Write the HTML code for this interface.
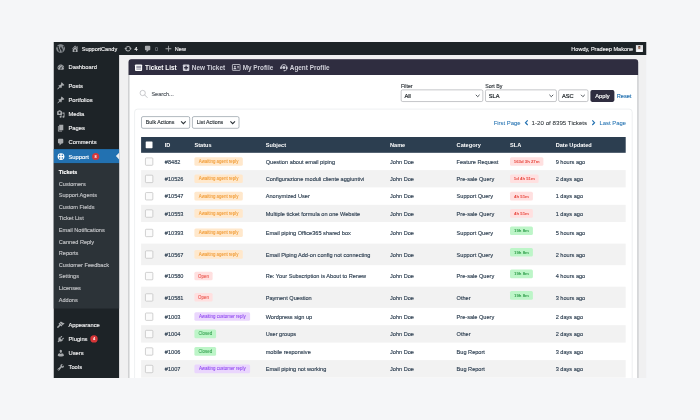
<!DOCTYPE html>
<html><head><meta charset="utf-8"><title>Ticket List</title>
<style>
html,body{margin:0;padding:0}
body{width:700px;height:420px;overflow:hidden;background:#f5f6f8;font-family:"Liberation Sans",sans-serif;position:relative}
.shot{position:absolute;left:0;top:0;width:700px;height:420px;clip-path:inset(42px 53.5px 42px 53.5px)}
.shot>svg{position:absolute;left:0;top:0}
.t{position:absolute;white-space:nowrap;line-height:10px;height:10px;-webkit-text-stroke:0.14px currentColor}
.c{transform:translateX(-50%)}
.mi{font-size:5.8px;color:#f0f0f1}
.si{font-size:5.58px;color:#c3c4c7}
.ab{font-size:5.55px;color:#f0f0f1}
.tab{font-size:6.4px;font-weight:bold;color:#cfcfd8;-webkit-text-stroke:0}
.lbl{font-size:5.25px;color:#2c3338}
.selt{font-size:5.7px;color:#1d2327;-webkit-text-stroke:0.2px currentColor}
.btnt{font-size:5.25px;color:#2c3338}
.pg{font-size:5.9px;color:#2271b1;-webkit-text-stroke:0.06px currentColor}
.tht{font-size:5.6px;font-weight:bold;color:#fff;-webkit-text-stroke:0}
.td{font-size:5.6px;color:#2c3e50}
.m{font-size:5.6px}
.bdt{font-size:4.43px;-webkit-text-stroke:0.05px currentColor}
.slt{font-size:4.3px;font-weight:bold;-webkit-text-stroke:0}
.bn{font-size:3.9px;color:#fff;font-weight:bold;-webkit-text-stroke:0}
</style></head><body>
<div class="shot">
<svg width="700" height="420" viewBox="0 0 700 420" fill="none">
<rect x="53.50" y="42.00" width="593.00" height="336.00" fill="#f0f0f1"/>
<rect x="128.90" y="59.60" width="509.00" height="340.00" rx="2.5" fill="#ffffff" stroke="#b4b5b9" stroke-width="0.9"/>
<path d="M128.6 75V62Q128.6 59.3 131.3 59.3H635.4Q638.1 59.3 638.1 62V75Z" fill="#2f2d40"/>
<g transform="translate(135.00 64.40)"><rect width="7.1" height="6.5" rx="0.9" fill="#fff"/><rect x="1.3" y="1.5" width="4.8" height="0.8" fill="#77758a"/><rect x="1.3" y="2.9" width="4.8" height="0.8" fill="#77758a"/><rect x="1.3" y="4.3" width="4.8" height="0.8" fill="#77758a"/></g>
<g transform="translate(182.90 64.50)"><rect width="6.4" height="6.4" rx="0.8" fill="#cfcfd8"/><rect x="2.55" y="1.2" width="1.3" height="4" fill="#2f2d40"/><rect x="1.2" y="2.55" width="4" height="1.3" fill="#2f2d40"/></g>
<g transform="translate(232.00 64.10)"><rect x="0.4" y="0.4" width="7.7" height="5.9" rx="0.5" fill="none" stroke="#cfcfd8" stroke-width="0.8"/><circle cx="2.9" cy="2.6" r="0.9" fill="#cfcfd8"/><path d="M1.4 5.1Q1.4 3.7 2.9 3.7Q4.4 3.7 4.4 5.1Z" fill="#cfcfd8"/><rect x="5.1" y="2" width="2" height="0.7" fill="#cfcfd8"/><rect x="5.1" y="3.4" width="2" height="0.7" fill="#cfcfd8"/></g>
<g transform="translate(280.00 63.50)"><path d="M1.3 4V3.6A2.6 2.6 0 0 1 6.5 3.6V4" fill="none" stroke="#cfcfd8" stroke-width="0.8"/><rect x="0.2" y="3" width="1.6" height="2.6" rx="0.6" fill="#cfcfd8"/><rect x="6" y="3" width="1.6" height="2.6" rx="0.6" fill="#cfcfd8"/><circle cx="3.9" cy="3.9" r="1.5" fill="#cfcfd8"/><path d="M6.9 5.4Q6.9 7.2 4.4 7.2" fill="none" stroke="#cfcfd8" stroke-width="0.7"/><circle cx="4.2" cy="7.2" r="0.6" fill="#cfcfd8"/></g>
<g transform="translate(139.30 89.60)"><circle cx="3.4" cy="3.4" r="2.65" fill="none" stroke="#b4b6ba" stroke-width="0.7"/><path d="M5.4 5.4L7.9 7.9" stroke="#b4b6ba" stroke-width="0.8" stroke-linecap="round"/></g>
<rect x="401.15" y="89.85" width="81.70" height="11.70" rx="1.5" fill="#fff" stroke="#8c8f94" stroke-width="0.5"/>
<path d="M475.80 94.8l1.9 1.9l1.9 -1.9" fill="none" stroke="#3c434a" stroke-width="0.9"/>
<rect x="485.45" y="89.85" width="71.00" height="11.70" rx="1.5" fill="#fff" stroke="#8c8f94" stroke-width="0.5"/>
<path d="M549.40 94.8l1.9 1.9l1.9 -1.9" fill="none" stroke="#3c434a" stroke-width="0.9"/>
<rect x="558.65" y="89.85" width="29.40" height="11.70" rx="1.5" fill="#fff" stroke="#8c8f94" stroke-width="0.5"/>
<path d="M581.00 94.8l1.9 1.9l1.9 -1.9" fill="none" stroke="#3c434a" stroke-width="0.9"/>
<rect x="590.40" y="90.10" width="24.00" height="11.80" rx="1.8" fill="#2f2d40"/>
<rect x="134.60" y="109.10" width="497.60" height="300.00" rx="3" fill="#fff" stroke="#e3e5e8" stroke-width="0.6"/>
<rect x="141.50" y="116.60" width="48.20" height="11.70" rx="1.5" fill="#fff" stroke="#7e8993" stroke-width="0.6"/>
<path d="M181.10 121.4l2.3 2.2l2.3 -2.2" fill="none" stroke="#2c3338" stroke-width="1.15"/>
<rect x="192.40" y="116.60" width="46.60" height="11.70" rx="1.5" fill="#fff" stroke="#7e8993" stroke-width="0.6"/>
<path d="M230.40 121.4l2.3 2.2l2.3 -2.2" fill="none" stroke="#2c3338" stroke-width="1.15"/>
<path d="M527.7 120.4l-2.2 2.3l2.2 2.3" fill="none" stroke="#2271b1" stroke-width="1.2"/>
<path d="M592.3 120.4l2.2 2.3l-2.2 2.3" fill="none" stroke="#2271b1" stroke-width="1.2"/>
<rect x="141.10" y="137.00" width="484.60" height="15.80" fill="#2c3e50"/>
<rect x="145.70" y="141.40" width="6.80" height="6.80" rx="0.6" fill="#fff"/>
<rect x="145.45" y="157.90" width="7.40" height="7.40" rx="0.8" fill="#fbfbfb" stroke="#b5b5b5" stroke-width="0.6"/>
<rect x="194.40" y="157.15" width="48.40" height="8.60" rx="1.5" fill="#ffe8cc"/>
<rect x="510.00" y="157.15" width="33.40" height="8.60" rx="1.5" fill="#ffe0e0"/>
<rect x="141.10" y="170.10" width="484.60" height="17.30" fill="#f2f2f2"/>
<rect x="145.45" y="175.20" width="7.40" height="7.40" rx="0.8" fill="#fbfbfb" stroke="#b5b5b5" stroke-width="0.6"/>
<rect x="194.40" y="174.45" width="48.40" height="8.60" rx="1.5" fill="#ffe8cc"/>
<rect x="510.00" y="174.45" width="28.60" height="8.60" rx="1.5" fill="#ffe0e0"/>
<rect x="145.45" y="192.55" width="7.40" height="7.40" rx="0.8" fill="#fbfbfb" stroke="#b5b5b5" stroke-width="0.6"/>
<rect x="194.40" y="191.80" width="48.40" height="8.60" rx="1.5" fill="#ffe8cc"/>
<rect x="510.00" y="191.80" width="22.90" height="8.60" rx="1.5" fill="#ffe0e0"/>
<rect x="141.10" y="204.80" width="484.60" height="17.20" fill="#f2f2f2"/>
<rect x="145.45" y="209.85" width="7.40" height="7.40" rx="0.8" fill="#fbfbfb" stroke="#b5b5b5" stroke-width="0.6"/>
<rect x="194.40" y="209.10" width="48.40" height="8.60" rx="1.5" fill="#ffe8cc"/>
<rect x="510.00" y="209.10" width="22.90" height="8.60" rx="1.5" fill="#ffe0e0"/>
<rect x="145.45" y="229.25" width="7.40" height="7.40" rx="0.8" fill="#fbfbfb" stroke="#b5b5b5" stroke-width="0.6"/>
<rect x="194.40" y="228.50" width="48.40" height="8.60" rx="1.5" fill="#ffe8cc"/>
<rect x="510.00" y="226.40" width="22.90" height="8.60" rx="1.5" fill="#bdf5c8"/>
<rect x="141.10" y="243.60" width="484.60" height="21.60" fill="#f2f2f2"/>
<rect x="145.45" y="250.85" width="7.40" height="7.40" rx="0.8" fill="#fbfbfb" stroke="#b5b5b5" stroke-width="0.6"/>
<rect x="194.40" y="250.10" width="48.40" height="8.60" rx="1.5" fill="#ffe8cc"/>
<rect x="510.00" y="248.00" width="22.90" height="8.60" rx="1.5" fill="#bdf5c8"/>
<rect x="145.45" y="272.40" width="7.40" height="7.40" rx="0.8" fill="#fbfbfb" stroke="#b5b5b5" stroke-width="0.6"/>
<rect x="194.40" y="271.65" width="18.20" height="8.60" rx="1.5" fill="#ffe0e0"/>
<rect x="510.00" y="269.60" width="22.90" height="8.60" rx="1.5" fill="#bdf5c8"/>
<rect x="141.10" y="286.70" width="484.60" height="21.20" fill="#f2f2f2"/>
<rect x="145.45" y="293.75" width="7.40" height="7.40" rx="0.8" fill="#fbfbfb" stroke="#b5b5b5" stroke-width="0.6"/>
<rect x="194.40" y="293.00" width="18.20" height="8.60" rx="1.5" fill="#ffe0e0"/>
<rect x="510.00" y="291.10" width="22.90" height="8.60" rx="1.5" fill="#bdf5c8"/>
<rect x="145.45" y="313.00" width="7.40" height="7.40" rx="0.8" fill="#fbfbfb" stroke="#b5b5b5" stroke-width="0.6"/>
<rect x="194.40" y="312.25" width="55.70" height="8.60" rx="1.5" fill="#ead6fd"/>
<rect x="141.10" y="325.20" width="484.60" height="17.40" fill="#f2f2f2"/>
<rect x="145.45" y="330.35" width="7.40" height="7.40" rx="0.8" fill="#fbfbfb" stroke="#b5b5b5" stroke-width="0.6"/>
<rect x="194.40" y="329.60" width="21.70" height="8.60" rx="1.5" fill="#bdf5c8"/>
<rect x="145.45" y="347.80" width="7.40" height="7.40" rx="0.8" fill="#fbfbfb" stroke="#b5b5b5" stroke-width="0.6"/>
<rect x="194.40" y="347.05" width="21.70" height="8.60" rx="1.5" fill="#bdf5c8"/>
<rect x="141.10" y="360.10" width="484.60" height="17.50" fill="#f2f2f2"/>
<rect x="145.45" y="365.30" width="7.40" height="7.40" rx="0.8" fill="#fbfbfb" stroke="#b5b5b5" stroke-width="0.6"/>
<rect x="194.40" y="364.55" width="55.70" height="8.60" rx="1.5" fill="#ead6fd"/>
<rect x="53.50" y="55.00" width="65.60" height="323.00" fill="#1d2327"/>
<rect x="53.50" y="163.10" width="65.60" height="145.50" fill="#2c3338"/>
<rect x="53.50" y="149.10" width="65.60" height="14.00" fill="#2271b1"/>
<rect x="53.50" y="42.00" width="593.00" height="13.00" fill="#1d2327"/>
<path d="M119.1 152.7L115.9 156.1L119.1 159.5Z" fill="#f0f0f1"/>
<path transform="translate(56.70 63.25) scale(0.4120)" d="M3.76 16h12.48c1.1-1.37 1.76-3.11 1.76-5 0-4.42-3.58-8-8-8s-8 3.58-8 8c0 1.89.66 3.63 1.76 5zM10 4c.55 0 1 .45 1 1s-.45 1-1 1-1-.45-1-1 .45-1 1-1zM6 6c.55 0 1 .45 1 1s-.45 1-1 1-1-.45-1-1 .45-1 1-1zm8 0c.55 0 1 .45 1 1s-.45 1-1 1-1-.45-1-1 .45-1 1-1zm-5.37 5.55L12 7v6c0 1.1-.9 2-2 2s-2-.9-2-2c0-.57.24-1.08.63-1.45zM4 10c.55 0 1 .45 1 1s-.45 1-1 1-1-.45-1-1 .45-1 1-1zm12 0c.55 0 1 .45 1 1s-.45 1-1 1-1-.45-1-1 .45-1 1-1zm-5 3c0-.55-.45-1-1-1s-1 .45-1 1 .45 1 1 1 1-.45 1-1z" fill="#a7aaad" fill-rule="evenodd"/>
<path transform="translate(56.70 81.85) scale(0.4120)" d="M10.44 3.02l1.82-1.82 6.36 6.35-1.83 1.82c-1.05-.68-2.48-.57-3.41.36l-.75.75c-.93.93-1.04 2.36-.36 3.41l-1.83 1.82-2.41-2.41-2.8 2.79c-.42.42-3.38 2.71-3.8 2.29s1.86-3.39 2.28-3.81l2.79-2.79L4.1 9.36l1.83-1.82c1.05.68 2.48.57 3.4-.36l.75-.75c.93-.92 1.04-2.35.36-3.41z" fill="#a7aaad" fill-rule="evenodd"/>
<path transform="translate(56.70 95.95) scale(0.4120)" d="M10.44 3.02l1.82-1.82 6.36 6.35-1.83 1.82c-1.05-.68-2.48-.57-3.41.36l-.75.75c-.93.93-1.04 2.36-.36 3.41l-1.83 1.82-2.41-2.41-2.8 2.79c-.42.42-3.38 2.71-3.8 2.29s1.86-3.39 2.28-3.81l2.79-2.79L4.1 9.36l1.83-1.82c1.05.68 2.48.57 3.4-.36l.75-.75c.93-.92 1.04-2.35.36-3.41z" fill="#a7aaad" fill-rule="evenodd"/>
<path transform="translate(56.70 109.95) scale(0.4120)" d="M13 11V4c0-.55-.45-1-1-1h-1.670L9 1H5L3.670 3H2c-.55 0-1 .45-1 1v7c0 .55.45 1 1 1h10c.55 0 1-.45 1-1zM7 4.500c1.380 0 2.500 1.120 2.500 2.500S8.380 9.500 7 9.500 4.500 8.380 4.500 7 5.620 4.500 7 4.500zM14 6h5v10.500c0 1.380-1.120 2.500-2.500 2.500S14 17.880 14 16.500s1.120-2.500 2.500-2.500c.17 0 .34.020.5.050V9h-3V6zm-4 8.050V13h2v3.500c0 1.380-1.120 2.500-2.500 2.500S7 17.880 7 16.500 8.120 14 9.500 14c.17 0 .34.020.5.050z" fill="#a7aaad" fill-rule="evenodd"/>
<path transform="translate(56.70 124.05) scale(0.4120)" d="M6 15V2h10v13H6zm-1 1h8v2H3V5h2v11z" fill="#a7aaad" fill-rule="evenodd"/>
<path transform="translate(56.70 138.05) scale(0.4120)" d="M5 2h9c1.100 0 2 .9 2 2v7c0 1.100-.9 2-2 2h-2l-5 5v-5H5c-1.100 0-2-.9-2-2V4c0-1.100.9-2 2-2z" fill="#a7aaad" fill-rule="evenodd"/>
<g transform="translate(61 156.60)"><circle r="3.4" fill="#fff"/><g fill="#2271b1"><circle cx="-1.35" cy="-1.35" r="0.8"/><circle cx="1.35" cy="-1.35" r="0.8"/><circle cx="-1.35" cy="1.35" r="0.8"/><circle cx="1.35" cy="1.35" r="0.8"/></g></g>
<path transform="translate(56.70 320.75) scale(0.4120)" d="M14.48 11.060L7.410 3.990l1.500-1.500c.5-.56 2.300-.47 3.510.32 1.210.8 1.430 1.280 2.910 2.100 1.180.64 2.450 1.260 4.450.85zm-.71.71L6.700 4.700 4.930 6.470c-.39.39-.39 1.020 0 1.410l1.060 1.060c.39.39.39 1.030 0 1.420-.6.6-1.430 1.110-2.210 1.690-.35.26-.7.530-1.010.84C1.430 14.230.4 16.080 1.400 17.070c.99 1 2.840-.030 4.180-1.360.31-.31.580-.66.850-1.020.57-.78 1.080-1.610 1.690-2.210.39-.39 1.020-.39 1.410 0l1.060 1.060c.39.39 1.020.39 1.410 0z" fill="#a7aaad" fill-rule="evenodd"/>
<path transform="translate(56.70 334.95) scale(0.4120)" d="M13.110 4.360L9.870 7.600 8 5.730l3.240-3.240c.35-.34 1.050-.2 1.560.32.52.51.66 1.210.31 1.550zm-8 1.770l.91-1.120 9.010 9.010-1.190.84c-.71.71-2.630 1.160-3.820 1.160H6.140L4.900 17.260c-.59.59-1.540.59-2.120 0-.59-.58-.59-1.530 0-2.120l1.240-1.240v-3.880c0-1.130.4-3.190 1.090-3.890zm7.260 3.970l3.240-3.240c.34-.35 1.040-.21 1.550.31.520.51.660 1.210.31 1.550l-3.240 3.250z" fill="#a7aaad" fill-rule="evenodd"/>
<path transform="translate(56.70 349.05) scale(0.4120)" d="M10 9.250c-2.270 0-2.730-3.440-2.730-3.440C7 4.020 7.820 2 9.970 2c2.160 0 2.980 2.020 2.710 3.810 0 0-.41 3.440-2.680 3.440zm0 2.570L12.720 10c2.390 0 4.520 2.330 4.520 4.530v2.490s-3.650 1.130-7.240 1.130c-3.650 0-7.240-1.130-7.240-1.130v-2.490c0-2.250 1.940-4.480 4.470-4.480z" fill="#a7aaad" fill-rule="evenodd"/>
<path transform="translate(56.70 363.15) scale(0.4120)" d="M16.680 9.770c-1.340 1.340-3.300 1.670-4.950.99l-5.410 6.520c-.99.99-2.590.99-3.580 0s-.99-2.590 0-3.570l6.520-5.420c-.68-1.650-.35-3.610.99-4.950 1.280-1.280 3.120-1.620 4.720-1.060l-2.890 2.890 2.820 2.820 2.860-2.870c.53 1.580.18 3.390-1.080 4.650zM3.810 16.210c.4.390 1.040.39 1.430 0 .4-.4.400-1.040 0-1.430-.39-.4-1.030-.4-1.430 0-.39.39-.39 1.030 0 1.430z" fill="#a7aaad" fill-rule="evenodd"/>
<circle cx="95.7" cy="156.5" r="3.6" fill="#d63638"/>
<circle cx="94" cy="338.9" r="3.7" fill="#d63638"/>
<circle cx="60.6" cy="48.5" r="4.3" fill="#888d92"/>
<circle cx="60.6" cy="48.5" r="3.45" fill="none" stroke="#787d82" stroke-width="0.4"/>
<text x="60.6" y="52" font-size="7.6" font-weight="bold" font-family="Liberation Serif,serif" text-anchor="middle" fill="#1d2327">W</text>
<path transform="translate(71.00 44.50) scale(0.4120)" d="M16 8.500l1.530 1.530-1.060 1.060L10 4.620l-6.470 6.470-1.060-1.060L10 2.500l4 4v-2h2v4zm-6-2.460l6 5.990V18H4v-5.970zM12 17v-5H8v5h4z" fill="#a7aaad" fill-rule="evenodd"/>
<path transform="translate(124.00 44.60) scale(0.4120)" d="M10.200 3.280c3.530 0 6.430 2.610 6.920 6h2.080l-3.500 4-3.500-4h2.320c-.45-1.970-2.210-3.450-4.320-3.450-1.450 0-2.730.71-3.540 1.780L4.950 5.660C6.230 4.200 8.110 3.280 10.200 3.280zm-.4 13.440c-3.520 0-6.430-2.610-6.920-6H.8l3.500-4c1.170 1.330 2.330 2.670 3.500 4H5.480c.45 1.970 2.210 3.450 4.320 3.450 1.450 0 2.730-.71 3.540-1.780l1.710 1.950c-1.280 1.460-3.150 2.380-5.250 2.380z" fill="#a7aaad" fill-rule="evenodd"/>
<path transform="translate(143.70 44.90) scale(0.4120)" d="M5 2h9c1.100 0 2 .9 2 2v7c0 1.100-.9 2-2 2h-2l-5 5v-5H5c-1.100 0-2-.9-2-2V4c0-1.100.9-2 2-2z" fill="#a7aaad" fill-rule="evenodd"/>
<path transform="translate(164.30 44.60) scale(0.4120)" d="M17 9v2h-6v6H9v-6H3V9h6V3h2v6h6z" fill="#a7aaad" fill-rule="evenodd"/>
<rect x="635.90" y="45.10" width="7.10" height="6.80" fill="#e3e4e6"/>
<ellipse cx="639.3" cy="47.9" rx="1.15" ry="1.45" fill="#a97d68"/><path d="M638.1 47.3Q638.1 46 639.3 46Q640.5 46 640.5 47.3Q639.3 46.7 638.1 47.3Z" fill="#5b463d"/><path d="M636.5 51.9Q636.5 49.6 639.3 49.6Q642.3 49.6 642.3 51.9Z" fill="#f7f8fa"/>
</svg>
<div class="t tab" style="left:145.10px;top:63px;color:#fff">Ticket List</div>
<div class="t tab" style="left:191.80px;top:63px">New Ticket</div>
<div class="t tab" style="left:242.70px;top:63px">My Profile</div>
<div class="t tab" style="left:289.80px;top:63px">Agent Profile</div>
<div class="t m" style="left:151.40px;top:89px;color:#50575e">Search...</div>
<div class="t lbl" style="left:400.90px;top:81px">Filter</div>
<div class="t lbl" style="left:485.20px;top:81px">Sort By</div>
<div class="t selt" style="left:404.50px;top:91px">All</div>
<div class="t selt" style="left:488.80px;top:91px">SLA</div>
<div class="t selt" style="left:562.00px;top:91px">ASC</div>
<div class="t c m" style="left:602.40px;top:91px;font-size:5.7px;color:#fff">Apply</div>
<div class="t m" style="left:616.80px;top:91px;color:#2271b1">Reset</div>
<div class="t btnt" style="left:145.80px;top:117px">Bulk Actions</div>
<div class="t btnt" style="left:196.70px;top:117px">List Actions</div>
<div class="t pg" style="left:493.70px;top:118px">First Page</div>
<div class="t pg" style="left:531.60px;top:118px;font-size:6.18px;color:#2c3338">1-20 of 8395 Tickets</div>
<div class="t pg" style="left:599.50px;top:118px">Last Page</div>
<div class="t tht" style="left:164.80px;top:140px">ID</div>
<div class="t tht" style="left:194.50px;top:140px">Status</div>
<div class="t tht" style="left:265.80px;top:140px">Subject</div>
<div class="t tht" style="left:390.00px;top:140px">Name</div>
<div class="t tht" style="left:456.60px;top:140px">Category</div>
<div class="t tht" style="left:510.00px;top:140px">SLA</div>
<div class="t tht" style="left:555.70px;top:140px">Date Updated</div>
<div class="t td" style="left:164.80px;top:157px">#8482</div>
<div class="t c bdt" style="left:218.60px;top:157px;color:#f0962a">Awaiting agent reply</div>
<div class="t td" style="left:265.70px;top:157px">Question about email piping</div>
<div class="t td" style="left:390.00px;top:157px">John Doe</div>
<div class="t td" style="left:456.60px;top:157px">Feature Request</div>
<div class="t c slt" style="left:526.70px;top:157px;color:#e8453c">163d 3h 27m</div>
<div class="t td" style="left:555.70px;top:157px">9 hours ago</div>
<div class="t td" style="left:164.80px;top:174px">#10526</div>
<div class="t c bdt" style="left:218.60px;top:174px;color:#f0962a">Awaiting agent reply</div>
<div class="t td" style="left:265.70px;top:174px">Configurazione moduli cliente aggiuntivi</div>
<div class="t td" style="left:390.00px;top:174px">John Doe</div>
<div class="t td" style="left:456.60px;top:174px">Pre-sale Query</div>
<div class="t c slt" style="left:524.30px;top:174px;color:#e8453c">1d 4h 51m</div>
<div class="t td" style="left:555.70px;top:174px">2 days ago</div>
<div class="t td" style="left:164.80px;top:191px">#10547</div>
<div class="t c bdt" style="left:218.60px;top:192px;color:#f0962a">Awaiting agent reply</div>
<div class="t td" style="left:265.70px;top:191px">Anonymized User</div>
<div class="t td" style="left:390.00px;top:191px">John Doe</div>
<div class="t td" style="left:456.60px;top:191px">Support Query</div>
<div class="t c slt" style="left:521.45px;top:192px;color:#e8453c">4h 51m</div>
<div class="t td" style="left:555.70px;top:191px">1 days ago</div>
<div class="t td" style="left:164.80px;top:209px">#10553</div>
<div class="t c bdt" style="left:218.60px;top:209px;color:#f0962a">Awaiting agent reply</div>
<div class="t td" style="left:265.70px;top:209px">Multiple ticket formula on one Website</div>
<div class="t td" style="left:390.00px;top:209px">John Doe</div>
<div class="t td" style="left:456.60px;top:209px">Pre-sale Query</div>
<div class="t c slt" style="left:521.45px;top:209px;color:#e8453c">4h 51m</div>
<div class="t td" style="left:555.70px;top:209px">1 days ago</div>
<div class="t td" style="left:164.80px;top:228px">#10393</div>
<div class="t c bdt" style="left:218.60px;top:228px;color:#f0962a">Awaiting agent reply</div>
<div class="t td" style="left:265.70px;top:228px">Email piping Office365 shared box</div>
<div class="t td" style="left:390.00px;top:228px">John Doe</div>
<div class="t td" style="left:456.60px;top:228px">Support Query</div>
<div class="t c slt" style="left:521.45px;top:226px;color:#2f9e4a">19h 8m</div>
<div class="t td" style="left:555.70px;top:228px">5 hours ago</div>
<div class="t td" style="left:164.80px;top:250px">#10567</div>
<div class="t c bdt" style="left:218.60px;top:250px;color:#f0962a">Awaiting agent reply</div>
<div class="t td" style="left:265.70px;top:250px">Email Piping Add-on config not connecting</div>
<div class="t td" style="left:390.00px;top:250px">John Doe</div>
<div class="t td" style="left:456.60px;top:250px">Support Query</div>
<div class="t c slt" style="left:521.45px;top:248px;color:#2f9e4a">19h 8m</div>
<div class="t td" style="left:555.70px;top:250px">2 hours ago</div>
<div class="t td" style="left:164.80px;top:271px">#10580</div>
<div class="t c bdt" style="left:203.50px;top:272px;color:#e8453c">Open</div>
<div class="t td" style="left:265.70px;top:271px">Re: Your Subscription is About to Renew</div>
<div class="t td" style="left:390.00px;top:271px">John Doe</div>
<div class="t td" style="left:456.60px;top:271px">Pre-sale Query</div>
<div class="t c slt" style="left:521.45px;top:269px;color:#2f9e4a">19h 8m</div>
<div class="t td" style="left:555.70px;top:271px">4 hours ago</div>
<div class="t td" style="left:164.80px;top:293px">#10581</div>
<div class="t c bdt" style="left:203.50px;top:293px;color:#e8453c">Open</div>
<div class="t td" style="left:265.70px;top:293px">Payment Question</div>
<div class="t td" style="left:390.00px;top:293px">John Doe</div>
<div class="t td" style="left:456.60px;top:293px">Other</div>
<div class="t c slt" style="left:521.45px;top:291px;color:#2f9e4a">19h 8m</div>
<div class="t td" style="left:555.70px;top:293px">3 hours ago</div>
<div class="t td" style="left:164.80px;top:312px">#1003</div>
<div class="t c bdt" style="left:222.25px;top:312px;color:#8b3ff0">Awaiting customer reply</div>
<div class="t td" style="left:265.70px;top:312px">Wordpress sign up</div>
<div class="t td" style="left:390.00px;top:312px">John Doe</div>
<div class="t td" style="left:456.60px;top:312px">Pre-sale Query</div>
<div class="t td" style="left:555.70px;top:312px">2 days ago</div>
<div class="t td" style="left:164.80px;top:329px">#1004</div>
<div class="t c bdt" style="left:205.25px;top:329px;color:#2f9e4a">Closed</div>
<div class="t td" style="left:265.70px;top:329px">User groups</div>
<div class="t td" style="left:390.00px;top:329px">John Doe</div>
<div class="t td" style="left:456.60px;top:329px">Other</div>
<div class="t td" style="left:555.70px;top:329px">2 days ago</div>
<div class="t td" style="left:164.80px;top:347px">#1006</div>
<div class="t c bdt" style="left:205.25px;top:347px;color:#2f9e4a">Closed</div>
<div class="t td" style="left:265.70px;top:347px">mobile responsive</div>
<div class="t td" style="left:390.00px;top:347px">John Doe</div>
<div class="t td" style="left:456.60px;top:347px">Bug Report</div>
<div class="t td" style="left:555.70px;top:347px">3 days ago</div>
<div class="t td" style="left:164.80px;top:364px">#1007</div>
<div class="t c bdt" style="left:222.25px;top:364px;color:#8b3ff0">Awaiting customer reply</div>
<div class="t td" style="left:265.70px;top:364px">Email piping not working</div>
<div class="t td" style="left:390.00px;top:364px">John Doe</div>
<div class="t td" style="left:456.60px;top:364px">Bug Report</div>
<div class="t td" style="left:555.70px;top:364px">3 days ago</div>
<div class="t mi" style="left:68.50px;top:62px">Dashboard</div>
<div class="t mi" style="left:68.50px;top:81px">Posts</div>
<div class="t mi" style="left:68.50px;top:95px">Portfolios</div>
<div class="t mi" style="left:68.50px;top:109px">Media</div>
<div class="t mi" style="left:68.50px;top:123px">Pages</div>
<div class="t mi" style="left:68.50px;top:137px">Comments</div>
<div class="t mi" style="left:68.50px;top:152px;color:#fff">Support</div>
<div class="t mi" style="left:68.50px;top:320px">Appearance</div>
<div class="t mi" style="left:68.50px;top:334px">Plugins</div>
<div class="t mi" style="left:68.50px;top:348px">Users</div>
<div class="t mi" style="left:68.50px;top:362px">Tools</div>
<div class="t si" style="left:58.80px;top:167px;font-size:5.4px;font-weight:bold;color:#fff">Tickets</div>
<div class="t si" style="left:58.80px;top:179px">Customers</div>
<div class="t si" style="left:58.80px;top:190px">Support Agents</div>
<div class="t si" style="left:58.80px;top:202px">Custom Fields</div>
<div class="t si" style="left:58.80px;top:213px">Ticket List</div>
<div class="t si" style="left:58.80px;top:225px">Email Notifications</div>
<div class="t si" style="left:58.80px;top:237px">Canned Reply</div>
<div class="t si" style="left:58.80px;top:248px">Reports</div>
<div class="t si" style="left:58.80px;top:260px">Customer Feedback</div>
<div class="t si" style="left:58.80px;top:271px">Settings</div>
<div class="t si" style="left:58.80px;top:283px">Licenses</div>
<div class="t si" style="left:58.80px;top:295px">Addons</div>
<div class="t c bn" style="left:95.70px;top:152px">8</div>
<div class="t c bn" style="left:94.00px;top:334px">4</div>
<div class="t ab" style="left:81.70px;top:44px">SupportCandy</div>
<div class="t ab" style="left:134.60px;top:44px">4</div>
<div class="t ab" style="left:155.00px;top:44px;color:#7c8187">0</div>
<div class="t ab" style="left:174.80px;top:44px">New</div>
<div class="t ab" style="left:571.30px;top:44px">Howdy, Pradeep Makone</div>
</div></body></html>
